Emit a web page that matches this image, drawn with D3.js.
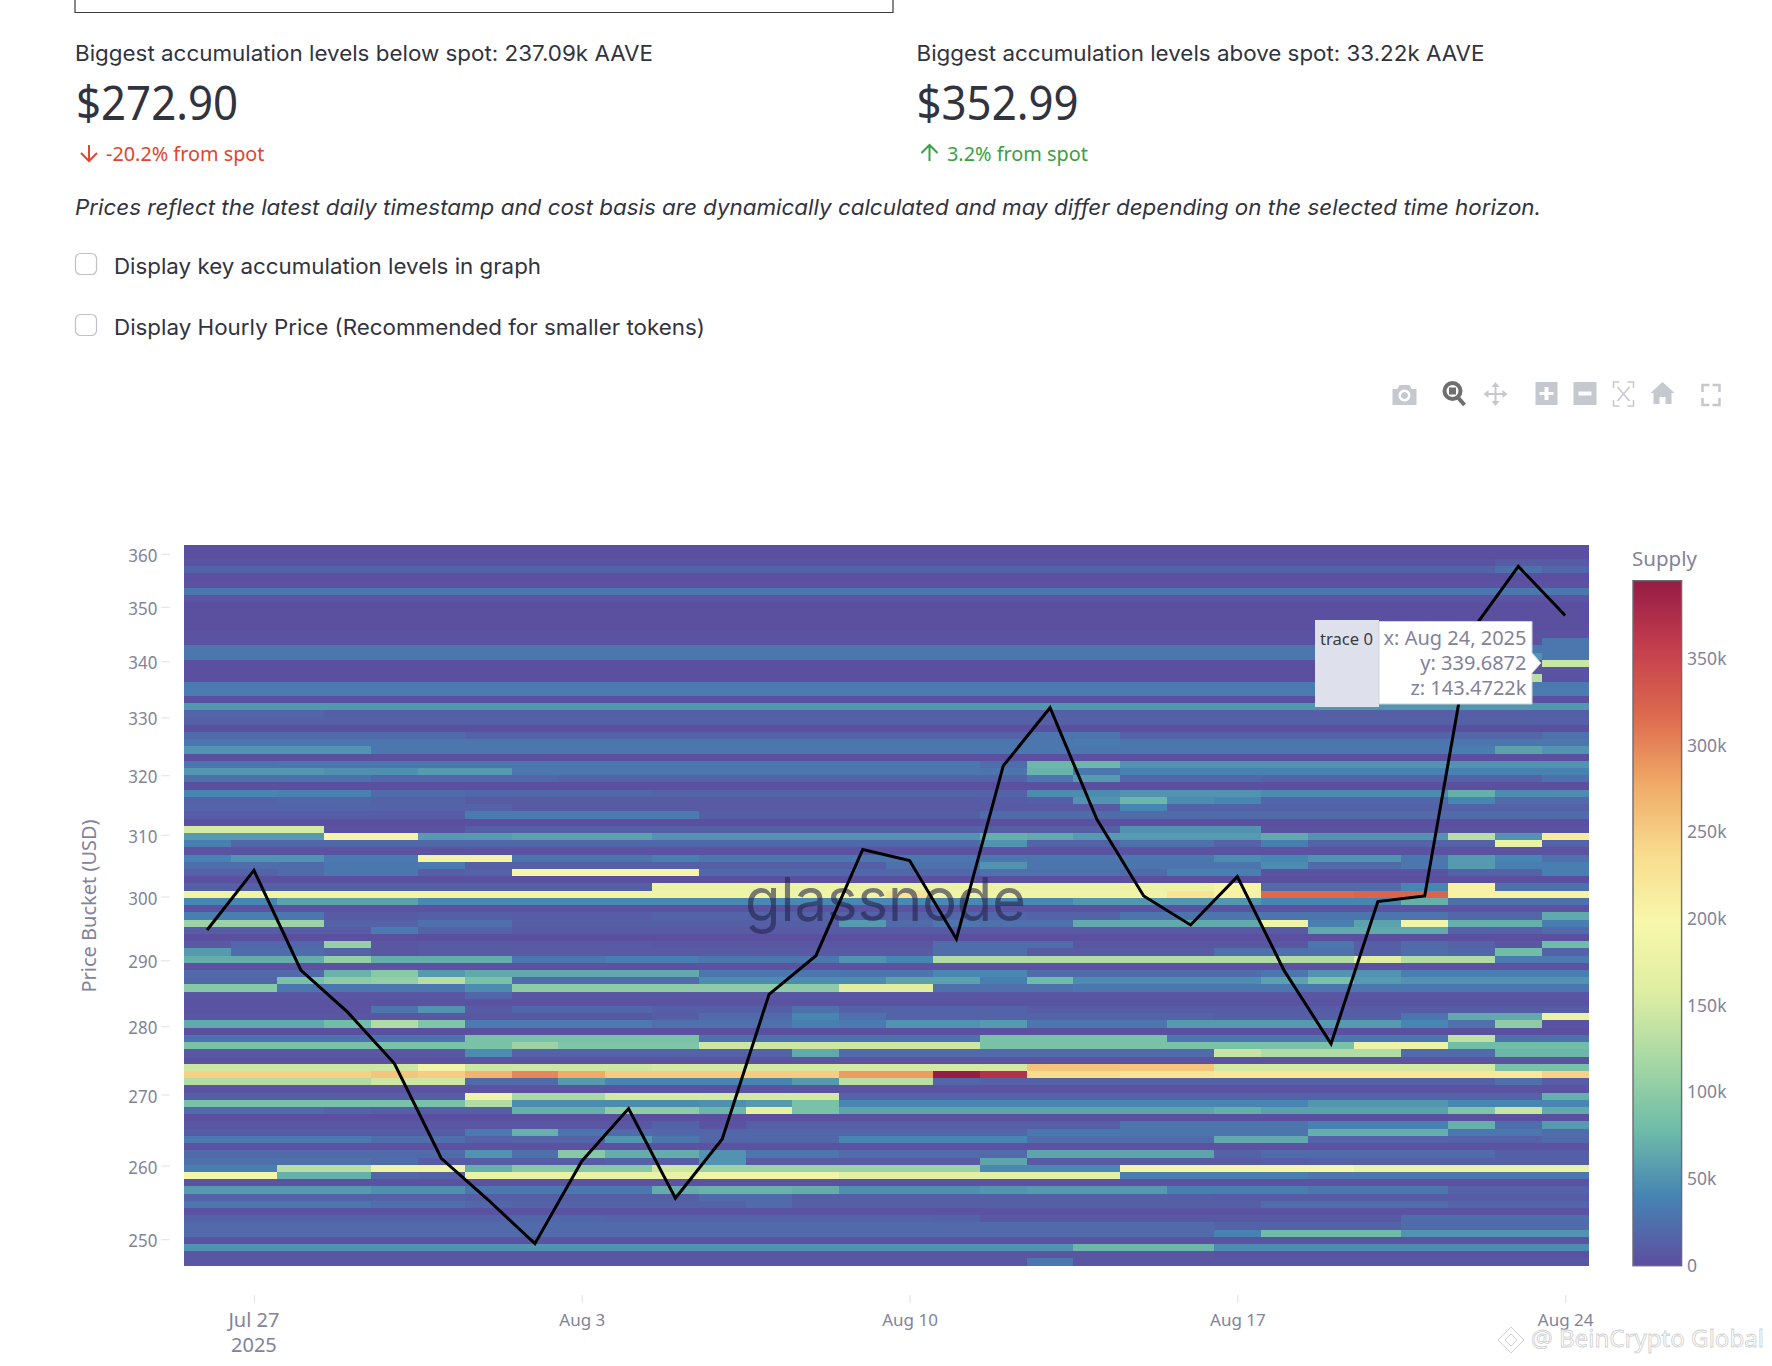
<!DOCTYPE html>
<html><head><meta charset="utf-8">
<script src="https://cdn.jsdelivr.net/npm/d3@7"></script>
<style>html,body{margin:0;padding:0;background:#fff;overflow:hidden}svg{display:block}</style>
</head><body><svg id="c" width="1772" height="1366"></svg>
<script>
// ---- data ----
const firstDay = "2025-07-26", lastDay = "2025-08-24";
const priceLine = [294.7,304.2,288.5,282.1,274.5,261,255.3,249.4,260.6,268,255.5,263.7,284.8,290.7,307.6,305.8,293.3,321.6,331.7,312.6,300.1,295.5,303.2,288.4,277.4,299.2,300.1,345.5,357.6,348.4];
const priceTicks = [250,260,270,280,290,300,310,320,330,340,350,360];
const dateTicks = ["2025-07-27","2025-08-03","2025-08-10","2025-08-17","2025-08-24"];
const supplyTicks = [0,50,100,150,200,250,300,350];
const spectralStops = ["#5c4fa0","#4684b3","#70bda8","#a8d8a4","#dfeea2","#f7f7aa","#f8dc8e","#f0ab68","#de6b4e","#c43f4e","#951b45"];
const supplyMax = 395;
// Supply in thousands, top bucket first. Each row: start column, value, start column, value ...
const supplyRows = [
[0,1],[0,1],[0,3,28,8],[0,15,28,25,29,18],[0,1],[0,2],[0,30],[0,4],[0,1],[0,1],
[0,1],[0,1],[0,2],[0,2,29,30],[0,30],[0,30,28,50,29,30],[0,1,29,143],[0,1,28,4],[0,1,28,130,29,3],[0,32],
[0,34],[0,1],[0,52],[0,16,3,12],[0,13],[0,1],[0,20,6,14,18,28,20,14,27,17,29,25],[0,30,19,33,20,30],[0,50,4,30,27,35,28,60,29,50],[0,1],
[0,28,2,30,17,22,18,75,20,50],[0,52,3,48,5,55,7,30,17,28,18,72,19,30,20,38],[0,25,4,18,8,15,18,30,19,55,20,18,23,14,29,25],[0,1],[0,40,2,38,4,20,6,18,10,14,18,45,20,50,23,45,27,70,28,45],[0,14,2,18,4,15,6,8,17,10,18,12,19,50,20,75,21,45,22,40,23,18,27,40,28,20],[0,16,4,14,7,8,20,40,21,15],[0,10,6,32,11,12,17,20],[0,1],[0,150,3,2,6,12,20,50,23,3],
[0,55,3,195,5,55,7,60,10,50,17,70,18,65,19,55,23,65,24,50,27,130,28,50,29,215],[0,35,1,18,17,50,18,15,20,25,22,15,23,35,24,15,28,175,29,15],[0,2],[0,38,1,50,3,32,5,190,7,28,10,35,11,30,22,45,23,40,24,50,26,30,27,55,28,40,29,25],[0,22,2,20,3,30,5,32,6,12,15,25,17,50,18,28,23,45,24,20,26,30,27,55,28,35],[0,15,2,20,3,30,5,12,6,14,7,195,11,18,17,25,20,20,21,35,23,3,27,15,29,35],[0,1],[0,12,10,180,22,200,23,20,26,40,27,205,28,25],[0,185,15,225,16,185,21,225,22,205,23,318,25,322,27,205],[0,40,2,60,5,42,19,52,23,40,26,70,27,25],
[0,2],[0,35,2,30,3,8,5,12,7,10,10,14,16,18,18,14,20,28,27,17,29,65],[0,110,3,14,5,25,7,12,14,55,15,20,16,30,17,25,19,65,23,185,24,35,25,60,26,190,27,70,29,35],[0,10,4,32,5,14,7,8,24,65,27,14,29,20],[0,1],[0,8,1,18,3,105,4,5,5,8,10,5,16,22,19,5,24,30,25,12,26,20,27,14,28,5,29,78],[0,55,1,22,3,14,4,5,5,8,16,22,18,8,22,25,25,12,26,22,27,18,28,80,29,15],[0,68,3,105,4,68,7,30,9,35,11,30,14,50,15,40,16,125,25,160,26,125,28,32],[0,2],[0,20,3,72,4,95,5,55,6,65,11,30,14,28,16,42,18,22,23,30,24,50,26,35],
[0,18,2,85,3,100,4,105,5,130,6,85,7,20,11,45,15,60,17,35,18,78,19,45,23,60,24,85,25,55,26,50],[0,95,2,30,6,45,7,100,14,160,16,25,19,30],[0,6,6,18,7,6],[0,2],[0,3,4,28,5,50,6,8,7,18,10,12,13,25,14,15,18,10],[0,5,10,10,11,20,13,40,14,25,15,15,22,12,26,28,27,65,29,175],[0,65,3,80,4,125,5,90,6,32,10,25,13,35,14,32,15,50,17,55,18,30,21,55,26,40,27,25,28,100,29,3],[0,1],[0,26,6,85,11,25,17,85,21,30,27,135,28,25],[0,85,7,110,8,90,11,145,17,85,25,180,27,80],
[0,5,6,45,7,15,13,65,14,20,22,140,23,125,26,20,28,75],[0,2],[0,145,5,190,6,145,10,150,18,255,22,150,28,85],[0,245,4,255,5,250,6,270,7,300,8,275,9,250,14,285,16,393,17,370,18,235,20,225,22,220,29,245],[0,125,4,145,6,20,8,55,9,40,13,55,14,130,16,18,17,14,28,25,29,10],[0,2],[0,12,6,190,7,120,9,150,14,14,29,70],[0,85,6,125,7,45,11,48,12,55,13,85,14,40,24,52,27,40],[0,20,3,14,4,12,7,70,9,100,11,75,12,170,13,85,14,62,22,70,23,60,27,90,28,140,29,65],[0,1],
[0,6,10,14,11,3,12,12,20,28,24,38,27,70,28,22,29,55],[0,10,6,32,7,70,8,28,9,20,10,18,18,30,20,28,24,70,27,30,29,22],[0,32,4,24,6,15,7,16,9,52,10,30,11,18,14,40,18,22,22,65,24,16,27,14,29,20],[0,2],[0,20,6,50,7,25,8,95,9,68,11,50,12,30,14,20,18,62,22,15,23,20,28,12],[0,25,4,22,5,10,9,14,10,10,11,50,12,8,17,62,18,8,23,10,24,12],[0,35,2,130,4,185,6,70,7,95,10,145,11,110,17,42,20,195,25,175],[0,195,2,70,4,18,5,14,6,175,11,190,14,165,20,35,24,30],[0,2],[0,55,4,48,6,30,10,68,11,72,13,68,14,48,17,52,18,55,21,35,24,30,27,14],
[0,14,6,12,11,20,13,12,22,10],[0,30,4,24,6,18,7,14,12,20,13,12,23,22,27,16],[0,3],[0,14,7,18,9,16,16,14,17,7,26,22],[0,20,22,14,26,20],[0,20,22,38,23,78,26,50],[0,3],[0,50,19,75,22,45],[0,5,22,3],[0,5,18,30,19,5]
];

// ---- layout ----
const svg = d3.select("#c");
const plot = {l:183.7, r:1588.6, t:544.5, b:1265.7};
const cb = {l:1633, r:1681.6, t:580.7, b:1265.7};
const ink = "#31333f", axisInk = "#82839a", sans = "Inter, sans-serif", narrow = "'Noto Sans', sans-serif";

const days = d3.utcDay.range(new Date(firstDay), d3.utcDay.offset(new Date(lastDay), 1));
const x = d3.scaleUtc().domain([d3.utcHour.offset(days[0],-12), d3.utcHour.offset(days[days.length-1],12)]).range([plot.l, plot.r]);
const y = d3.scaleLog().domain([246.5,361.8]).range([plot.b, plot.t]);
const bucket = d3.scaleBand().domain(d3.range(supplyRows.length)).range([plot.t, plot.b]);
const color = d3.scaleLinear().domain(spectralStops.map((_, i) => i/10*supplyMax)).range(spectralStops).clamp(true);
const legendY = d3.scaleLinear().domain([0,supplyMax]).range([cb.b,cb.t]);

function T(s,px,py,size,fill,opt={}){
  const t = svg.append("text").attr("x",px).attr("y",py).attr("font-size",size).attr("fill",fill)
    .attr("font-family",opt.font||sans).text(s);
  if(opt.w) t.attr("textLength",opt.w).attr("lengthAdjust","spacingAndGlyphs");
  if(opt.italic) t.attr("font-style","italic");
  if(opt.anchor) t.attr("text-anchor",opt.anchor);
  return t;
}

// ---- page header ----
svg.append("path").attr("d","M75,0V12.5H893V0").attr("fill","none").attr("stroke","#3a3a3f").attr("stroke-width",1.2);
T("Biggest accumulation levels below spot: 237.09k AAVE",75,61,21.5,ink,{w:578});
T("Biggest accumulation levels above spot: 33.22k AAVE",916.5,61,21.5,ink,{w:568});
T("$272.90",76,120,48,ink,{font:narrow,w:162});
T("$352.99",916.5,120,48,ink,{font:narrow,w:162});
svg.append("path").attr("d","M89,145V161M81,153L89,161L97,153").attr("fill","none").attr("stroke","#e0452f").attr("stroke-width",2);
T("-20.2% from spot",106,161,20,"#e0452f",{font:narrow,w:158.5});
svg.append("path").attr("d","M929.5,161V145M921.5,153L929.5,145L937.5,153").attr("fill","none").attr("stroke","#3ba045").attr("stroke-width",2);
T("3.2% from spot",947,161,20,"#3ba045",{font:narrow,w:141});
T("Prices reflect the latest daily timestamp and cost basis are dynamically calculated and may differ depending on the selected time horizon.",75,215,21.5,ink,{italic:true,w:1466});
[[253,"Display key accumulation levels in graph",427,274],[314,"Display Hourly Price (Recommended for smaller tokens)",591,335]].forEach(([by,s,w,base])=>{
  svg.append("rect").attr("x",75.5).attr("y",by+.5).attr("width",21).attr("height",21).attr("rx",5).attr("fill","#fff").attr("stroke","#bfc0c8").attr("stroke-width",1.2);
  T(s,114,base,21.5,ink,{w});
});

// ---- mode bar ----
const bar = svg.append("g").attr("fill","#c6c8cf").attr("stroke","none").attr("transform","translate(-5.5,0)");
bar.append("path").attr("d","M1398,389h5l2,-4h10l2,4h5v16h-24zM1410,389.5a6,6 0 1,0 .01,0zM1410,392a3.5,3.5 0 1,1 -.01,0z").attr("fill-rule","evenodd");
bar.append("circle").attr("cx",1458).attr("cy",391).attr("r",8).attr("fill","none").attr("stroke","#6f6f6f").attr("stroke-width",4);
bar.append("rect").attr("x",1454.5).attr("y",387.5).attr("width",7).attr("height",7).attr("fill","#6f6f6f");
bar.append("path").attr("d","M1463,397L1470,405").attr("stroke","#6f6f6f").attr("stroke-width",4);
bar.append("path").attr("d","M1501,382l-4,5h3v6h-6v-3l-5,4 5,4v-3h6v6h-3l4,5 4,-5h-3v-6h6v3l5,-4 -5,-4v3h-6v-6h3z");
bar.append("path").attr("d","M1541,382h22v23h-22zM1550,387v5h-5v3h5v5h4v-5h5v-3h-5v-5z").attr("fill-rule","evenodd");
bar.append("path").attr("d","M1579,382h23v23h-23zM1584,391.5v4h13v-4z").attr("fill-rule","evenodd");
bar.append("path").attr("d","M1619,388v-6h6M1633,382h6v6M1639,400v6h-6M1625,406h-6v-6M1623,387l12,14M1635,387l-12,14").attr("fill","none").attr("stroke","#c6c8cf").attr("stroke-width",1.5);
bar.append("path").attr("d","M1668,382l-12,11h3v11h6v-7h6v7h6v-11h3z");
bar.append("path").attr("d","M1708,392v-7h7M1718,385h7v7M1725,398v7h-7M1715,405h-7v-7").attr("fill","none").attr("stroke","#c6c8cf").attr("stroke-width",2.5);

// ---- heat map ----
const cells = [];
supplyRows.forEach((runs,row)=>{
  days.forEach((d,c)=>{
    let v = runs[1];
    for(let i=0;i<runs.length;i+=2) if(runs[i]<=c) v = runs[i+1];
    cells.push({d,row,v});
  });
});
svg.append("g").attr("shape-rendering","crispEdges").selectAll("rect").data(cells).join("rect")
  .attr("x",d=>x(d3.utcHour.offset(d.d,-12)))
  .attr("width",d=>x(d3.utcHour.offset(d.d,12))-x(d3.utcHour.offset(d.d,-12))+.5)
  .attr("y",d=>bucket(d.row))
  .attr("height",bucket.bandwidth()+.5)
  .attr("fill",d=>color(d.v));

// ---- watermark under the price line ----
T("glassnode",745,921,60,"#22224a",{w:281}).attr("opacity",.58);

// ---- price line ----
svg.append("path").datum(priceLine)
  .attr("fill","none").attr("stroke","#000").attr("stroke-width",3).attr("stroke-linejoin","miter")
  .attr("d",d3.line().x((d,i)=>x(days[i])).y(d=>y(d)));

// ---- axes ----
const yAxis = svg.append("g").attr("transform",`translate(${plot.l-14},0)`)
  .call(d3.axisLeft(y).tickValues(priceTicks).tickFormat(d3.format("d")).tickSize(8.4).tickPadding(4));
const xAxis = svg.append("g").attr("transform",`translate(0,${plot.b+29.3})`)
  .call(d3.axisBottom(x).tickValues(dateTicks.map(s=>new Date(s))).tickFormat(d3.utcFormat("%b %-d")).tickSize(8).tickPadding(14));
[yAxis,xAxis].forEach(a=>{
  a.select(".domain").remove();
  a.selectAll(".tick line").attr("stroke","#e4e5ea").attr("stroke-width",1.2);
  a.selectAll("text").attr("fill",axisInk).attr("font-family",narrow).attr("font-size",17);
});
yAxis.selectAll("text").attr("font-size",18).attr("textLength",29).attr("lengthAdjust","spacingAndGlyphs").attr("dy","0.42em");
xAxis.selectAll("text").attr("dy",null).attr("y",31);
xAxis.selectAll(".tick").filter((d,i)=>i===0).select("text").remove();
T("Jul 27",x(new Date(dateTicks[0])),1326.5,20,axisInk,{font:narrow,anchor:"middle"});
T("2025",x(new Date(dateTicks[0])),1351.5,20,axisInk,{font:narrow,anchor:"middle"});
T("Price Bucket (USD)",0,0,20,axisInk,{font:narrow,anchor:"middle"}).attr("transform","translate(96,906) rotate(-90)");

// ---- colour bar ----
svg.append("g").attr("shape-rendering","crispEdges").selectAll("rect").data(d3.range(0,supplyMax,supplyMax/342.5)).join("rect")
  .attr("x",cb.l).attr("width",cb.r-cb.l)
  .attr("y",d=>legendY(d)-2.2).attr("height",2.6)
  .attr("fill",d=>color(d));
svg.append("rect").attr("x",cb.l).attr("y",cb.t).attr("width",cb.r-cb.l).attr("height",cb.b-cb.t).attr("fill","none").attr("stroke","#6a6a72").attr("stroke-width",1.4);
const legendAxis = svg.append("g").attr("transform",`translate(${cb.r},0)`)
  .call(d3.axisRight(legendY).tickValues(supplyTicks).tickFormat(d=>d===0?"0":d+"k").tickSize(0).tickPadding(5.5));
legendAxis.select(".domain").remove();
legendAxis.selectAll("text").attr("fill",axisInk).attr("font-family",narrow).attr("font-size",17.5);
T("Supply",1632,566,20.5,axisInk,{font:narrow});

// ---- hover label ----
svg.append("rect").attr("x",1315).attr("y",620).attr("width",64).attr("height",87).attr("fill","#dee0ec");
svg.append("path").attr("d","M1379,621.5H1532V653L1541,663L1532,673V704H1379Z").attr("fill","#fff").attr("stroke","#cfd1da").attr("stroke-width",1);
T("trace 0",1320,645,17,"#3a3a44",{font:narrow,w:53});
["x: Aug 24, 2025","y: 339.6872","z: 143.4722k"].forEach((s,i)=>T(s,1526.5,645+25*i,20,axisInk,{font:narrow,anchor:"end"}));

// ---- source stamp ----
const stamp = svg.append("g").attr("fill","#fff").attr("stroke","#d0d0d0").attr("stroke-width",1);
stamp.append("path").attr("d","M1511,1327l13,13 -13,13 -13,-13z");
stamp.append("path").attr("d","M1511,1334l6,6 -6,6 -6,-6z");
T("@ BeinCrypto Global",1531,1347,24,"#fff",{font:narrow,w:233}).attr("stroke","#cfcfcf").attr("stroke-width",.8);
</script></body></html>
